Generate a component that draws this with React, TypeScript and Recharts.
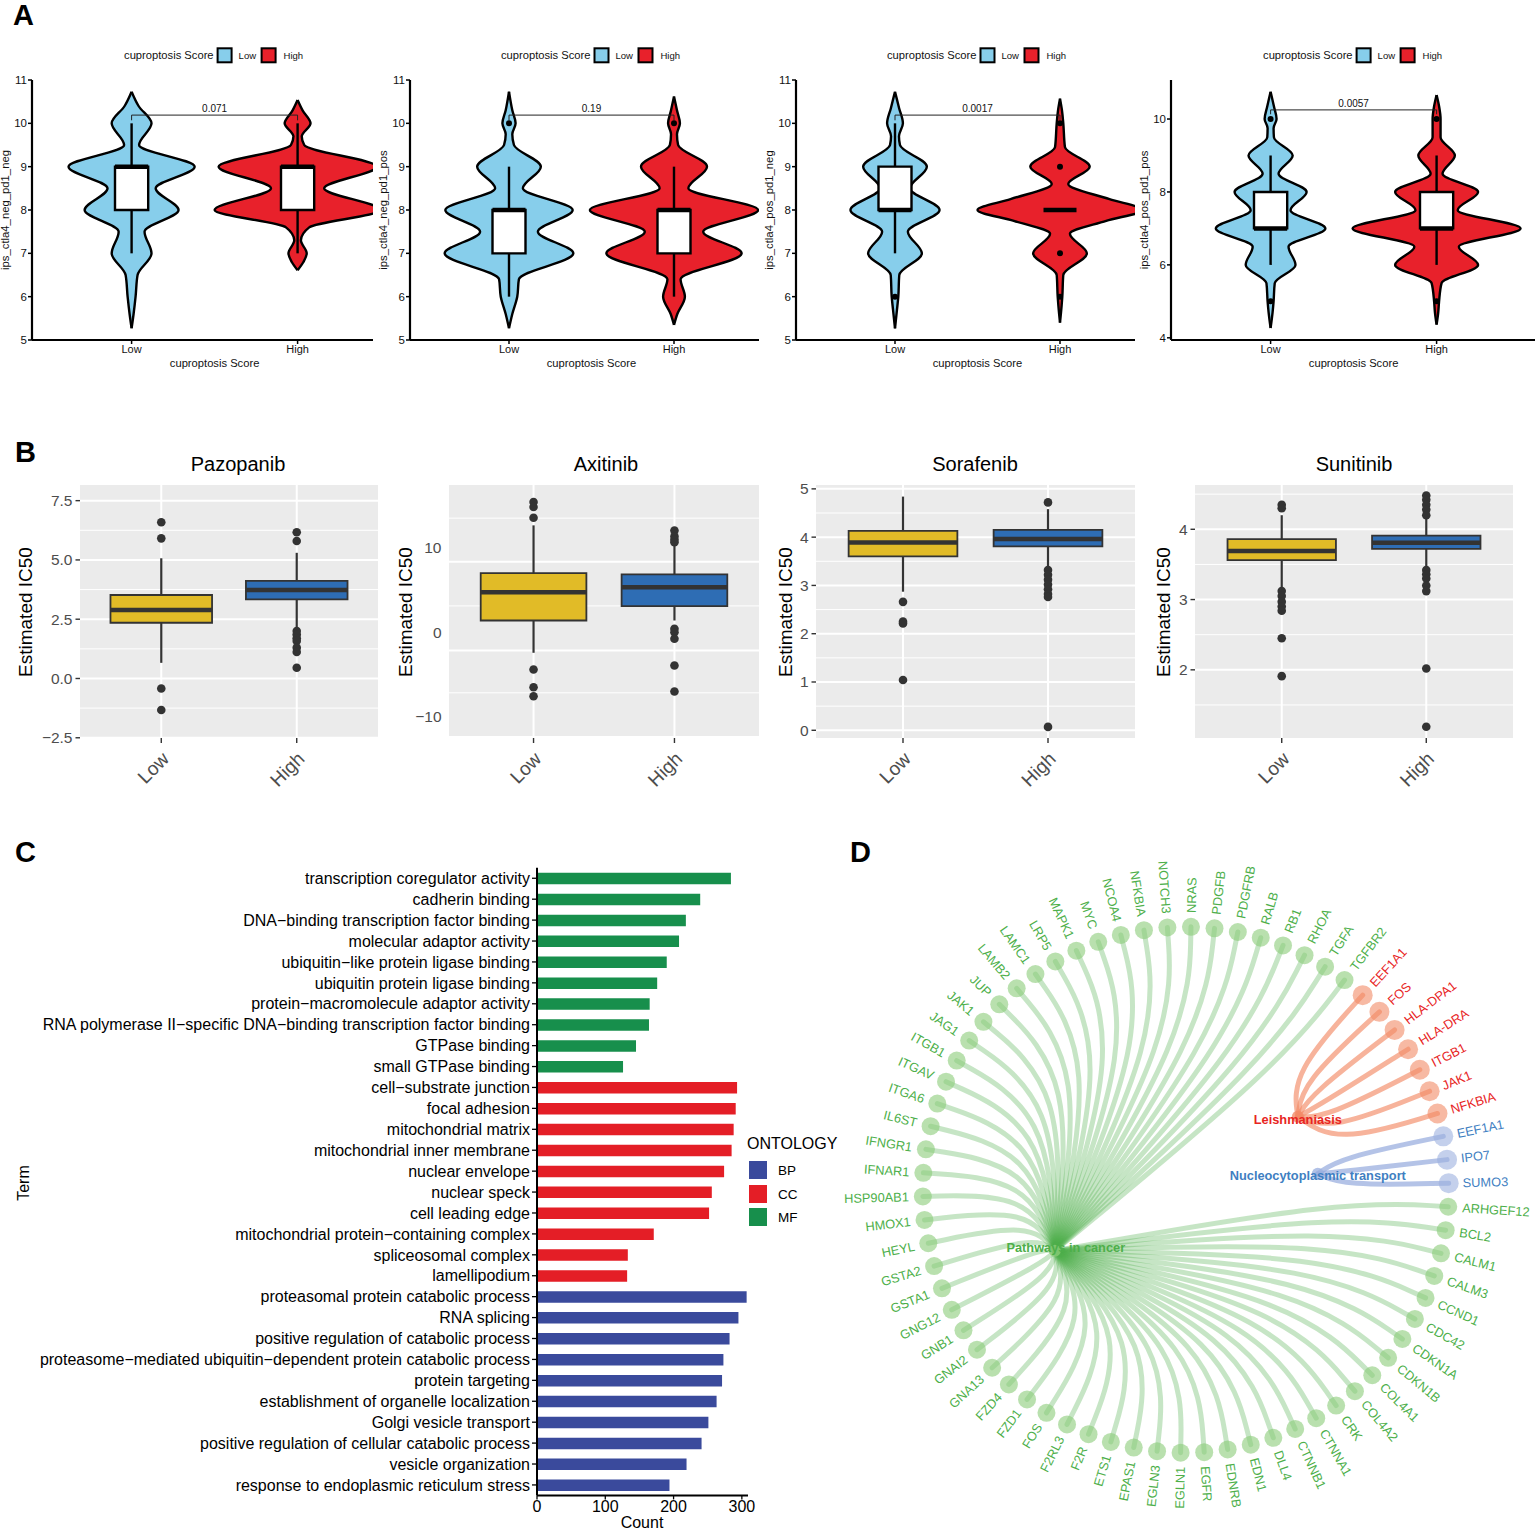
import React from "react";
import {
  ComposedChart,
  BarChart,
  Area,
  Bar,
  Cell,
  Line,
  Scatter,
  XAxis,
  YAxis,
  CartesianGrid,
  ReferenceArea,
  ReferenceLine,
  ReferenceDot,
} from "recharts";

const FONT = '"Liberation Sans", Arial, Helvetica, sans-serif';

const groups = ["Low", "High"];
const LOW_FILL = "#87CEEB";
const HIGH_FILL = "#E8212B";

// ---------------- A: immunophenoscore violins ----------------
const ipsNames = ["ips_ctla4_neg_pd1_neg", "ips_ctla4_neg_pd1_pos", "ips_ctla4_pos_pd1_neg", "ips_ctla4_pos_pd1_pos"];
const ipsP = ["0.071", "0.19", "0.0017", "0.0057"];
const ipsBracket = [10.19, 10.19, 10.19, 10.25];
const ipsDomains = [[5, 11], [5, 11], [5, 11], [3.94, 11.07]];
const ipsTicks = [[5, 6, 7, 8, 9, 10, 11], [5, 6, 7, 8, 9, 10, 11], [5, 6, 7, 8, 9, 10, 11], [4, 6, 8, 10]];

// density outline: [score, half width in group units]
const violinLow1 = [[5.27, 0], [5.6, 0.012], [6, 0.024], [6.5, 0.036], [7, 0.12], [7.5, 0.078], [8, 0.283], [8.5, 0.145], [9, 0.38], [9.5, 0.045], [10, 0.12], [10.4, 0.042], [10.73, 0]];
const violinHigh1 = [[6.61, 0], [6.8, 0.035], [7, 0.055], [7.3, 0.02], [7.6, 0.07], [8, 0.5], [8.5, 0.16], [9, 0.476], [9.5, 0.04], [9.7, 0.025], [10, 0.078], [10.3, 0.03], [10.54, 0]];
const violinLow2 = [[5.27, 0], [5.6, 0.02], [6, 0.05], [6.4, 0.06], [7, 0.39], [7.5, 0.175], [8, 0.386], [8.5, 0.084], [9, 0.193], [9.5, 0.03], [9.75, 0.02], [10, 0.04], [10.3, 0.02], [10.73, 0]];
const violinHigh2 = [[5.35, 0], [5.6, 0.02], [6, 0.066], [6.4, 0.04], [7, 0.41], [7.5, 0.177], [8, 0.51], [8.5, 0.087], [9, 0.2], [9.5, 0.025], [9.75, 0.018], [10, 0.036], [10.3, 0.018], [10.62, 0]];
const violinLow3 = [[5.27, 0], [5.7, 0.012], [6, 0.02], [6.5, 0.026], [7, 0.163], [7.5, 0.078], [8, 0.27], [8.5, 0.09], [9, 0.193], [9.5, 0.03], [9.7, 0.024], [10, 0.048], [10.35, 0.025], [10.73, 0]];
const violinHigh3 = [[5.4, 0], [5.8, 0.01], [6, 0.014], [6.5, 0.02], [7, 0.163], [7.45, 0.06], [7.75, 0.28], [8, 0.5], [8.25, 0.3], [8.6, 0.05], [9, 0.18], [9.45, 0.03], [10, 0.02], [10.3, 0.012], [10.57, 0]];
const violinLow4 = [[4.27, 0], [4.7, 0.012], [5, 0.018], [5.5, 0.025], [6, 0.15], [6.5, 0.108], [7, 0.33], [7.5, 0.12], [8, 0.217], [8.5, 0.048], [9, 0.133], [9.5, 0.02], [9.75, 0.018], [10, 0.036], [10.35, 0.02], [10.75, 0]];
const violinHigh4 = [[4.36, 0], [4.7, 0.01], [5, 0.015], [5.5, 0.03], [6, 0.25], [6.5, 0.134], [7, 0.506], [7.5, 0.127], [8, 0.25], [8.5, 0.036], [9, 0.11], [9.5, 0.024], [10, 0.024], [10.35, 0.015], [10.66, 0]];
const ipsViolinLow = [violinLow1, violinLow2, violinLow3, violinLow4];
const ipsViolinHigh = [violinHigh1, violinHigh2, violinHigh3, violinHigh4];

// boxes: [q1, median, q3, lower whisker, upper whisker]
const ipsBoxLow = [[8, 9, 9, 7, 10], [7, 8, 8, 6, 9], [8, 8, 9, 7, 10], [7, 7, 8, 6, 9]];
const ipsBoxHigh = [[8, 9, 9, 7, 10], [7, 8, 8, 6, 9], [8, 8, 8, 8, 8], [7, 7, 8, 6, 9]];
const ipsOutLow = [[], [10], [6], [10, 5]];
const ipsOutHigh = [[], [10], [10, 9, 7, 6], [10, 5]];

// ---------------- B: drug sensitivity boxplots ----------------
const drugNames = ["Pazopanib", "Axitinib", "Sorafenib", "Sunitinib"];
const icDomains = [[-2.51, 8.16], [-12.48, 17.36], [-0.16, 5.08], [1.03, 4.63]];
const icTicks = [[-2.5, 0, 2.5, 5, 7.5], [-10, 0, 10], [0, 1, 2, 3, 4, 5], [2, 3, 4]];
const icGridMajor = [[-2.5, 0, 2.5, 5, 7.5], [8.3, -2.15, -12.35], [0, 1, 2, 3, 4, 5], [2, 3, 4]];
const icGridMinor = [[-1.25, 1.25, 3.75, 6.25], [13.45, 3.1, -7.15], [0.5, 1.5, 2.5, 3.5, 4.5], [1.5, 2.5, 3.5, 4.5]];
const icBoxLow = [[2.35, 2.89, 3.52, 0.66, 5.07], [1.38, 4.72, 6.97, -2.43, 12.6], [3.6, 3.89, 4.13, 2.87, 4.84], [3.56, 3.69, 3.86, 3.16, 4.2]];
const icBoxHigh = [[3.34, 3.73, 4.12, 2.15, 5.3], [3.07, 5.31, 6.81, 1.38, 10.3], [3.81, 3.96, 4.15, 3.35, 4.58], [3.72, 3.81, 3.91, 3.45, 4.16]];
const icOutLow = [
  [6.59, 5.91, -0.42, -1.33],
  [15.35, 14.76, 13.5, -4.4, -6.5, -7.56],
  [2.66, 2.25, 2.21, 1.04],
  [4.35, 4.3, 3.12, 3.05, 2.97, 2.9, 2.84, 2.45, 1.91],
];
const icOutHigh = [
  [6.17, 5.8, 2.0, 1.85, 1.7, 1.58, 1.3, 1.12, 0.45],
  [12.0, 11.3, 10.9, 10.6, 0.4, 0.0, -0.78, -3.93, -7.0],
  [4.72, 3.32, 3.22, 3.12, 3.02, 2.92, 2.82, 2.76, 0.07],
  [4.48, 4.42, 4.35, 4.28, 4.2, 3.42, 3.36, 3.3, 3.2, 3.12, 2.02, 1.19],
];
const YELLOW = "#E1BB27";
const BLUE = "#2E6DB4";

// ---------------- C: GO enrichment ----------------
const goTermsMF = ["transcription coregulator activity", "cadherin binding", "DNA−binding transcription factor binding", "molecular adaptor activity", "ubiquitin−like protein ligase binding", "ubiquitin protein ligase binding", "protein−macromolecule adaptor activity", "RNA polymerase II−specific DNA−binding transcription factor binding", "GTPase binding", "small GTPase binding"];
const goCountsMF = [284, 239, 218, 208, 190, 176, 165, 164, 145, 126];
const goTermsCC = ["cell−substrate junction", "focal adhesion", "mitochondrial matrix", "mitochondrial inner membrane", "nuclear envelope", "nuclear speck", "cell leading edge", "mitochondrial protein−containing complex", "spliceosomal complex", "lamellipodium"];
const goCountsCC = [293, 291, 288, 285, 274, 256, 252, 171, 133, 132];
const goTermsBP = ["proteasomal protein catabolic process", "RNA splicing", "positive regulation of catabolic process", "proteasome−mediated ubiquitin−dependent protein catabolic process", "protein targeting", "establishment of organelle localization", "Golgi vesicle transport", "positive regulation of cellular catabolic process", "vesicle organization", "response to endoplasmic reticulum stress"];
const goCountsBP = [307, 295, 282, 273, 271, 263, 251, 241, 219, 194];
const ontologies = ["BP", "CC", "MF"];
const ontologyColors = { BP: "#3A4A9C", CC: "#E41E26", MF: "#178F4C" };

// ---------------- D: KEGG gene-concept network ----------------
const cancerGenes = ["ARHGEF12", "BCL2", "CALM1", "CALM3", "CCND1", "CDC42", "CDKN1A", "CDKN1B", "COL4A1", "COL4A2", "CRK", "CTNNA1", "CTNNB1", "DLL4", "EDN1", "EDNRB", "EGFR", "EGLN1", "EGLN3", "EPAS1", "ETS1", "F2R", "F2RL3", "FOS", "FZD1", "FZD4", "GNA13", "GNAI2", "GNB1", "GNG12", "GSTA1", "GSTA2", "HEYL", "HMOX1", "HSP90AB1", "IFNAR1", "IFNGR1", "IL6ST", "ITGA6", "ITGAV", "ITGB1", "JAG1", "JAK1", "JUP", "LAMB2", "LAMC1", "LRP5", "MAPK1", "MYC", "NCOA4", "NFKBIA", "NOTCH3", "NRAS", "PDGFB", "PDGFRB", "RALB", "RB1", "RHOA", "TGFA", "TGFBR2"];
const leishGenes = ["EEF1A1", "FOS", "HLA-DPA1", "HLA-DRA", "ITGB1", "JAK1", "NFKBIA"];
const nucleoGenes = ["EEF1A1", "IPO7", "SUMO3"];
const pathwayNames = ["Pathways in cancer", "Leishmaniasis", "Nucleocytoplasmic transport"];
const pathwayGenes = [cancerGenes, leishGenes, nucleoGenes];
// hub placement in ring-radius units (centre of gene ring = 0,0)
const hubLayout = [[-0.498, 0.232], [0.426, -0.278], [0.502, -0.061]];
const hubLabelShift = [[11, -3], [0, 3], [0, 2]];
const pathwayText = ["#4DAF4A", "#E8251F", "#3F7FC2"];
const pathwayEdge = ["#4DAF4A", "#F28A66", "#8CA3DA"];
const pathwayEdgeOpacity = [0.32, 0.65, 0.65];
const pathwayNode = ["#8ACB78", "#F28A66", "#9DB1E0"];
const RING_START = 3.7;

// ---------------- helpers ----------------
function boxMarks(key, center, half, s, fill, stroke, boxW, medW, whiskW) {
  const [q1, med, q3, lo, hi] = s;
  return [
    <ReferenceLine key={key + "wl"} segment={[{ x: center, y: lo }, { x: center, y: q1 }]} stroke={stroke} strokeWidth={whiskW} zIndex={650} />,
    <ReferenceLine key={key + "wh"} segment={[{ x: center, y: q3 }, { x: center, y: hi }]} stroke={stroke} strokeWidth={whiskW} zIndex={650} />,
    <ReferenceArea key={key + "b"} x1={center - half} x2={center + half} y1={q1} y2={q3} fill={fill} fillOpacity={1} stroke={stroke} strokeWidth={boxW} zIndex={660} />,
    <ReferenceLine key={key + "m"} segment={[{ x: center - half, y: med }, { x: center + half, y: med }]} stroke={stroke} strokeWidth={medW} zIndex={670} />,
  ];
}

const ipsLeft = [0, 373, 759, 1135];
const ipsAxisX = [32, 410, 796, 1171];
const ipsUnit = [166, 165, 165, 166];

function IpsViolin({ k }) {
  const left = ipsLeft[k];
  const axisW = ipsAxisX[k] - left;
  const width = axisW + ipsUnit[k] * 2.2;
  const lowRows = ipsViolinLow[k].map(([v, w]) => ({ v, w }));
  const highRows = ipsViolinHigh[k].map(([v, w]) => ({ v, w }));
  const outRows = [...ipsOutLow[k].map((v) => ({ x: 1, v })), ...ipsOutHigh[k].map((v) => ({ x: 2, v }))];
  const by = ipsBracket[k];
  return (
    <div style={{ position: "absolute", left, top: 40, width, height: 340, background: "#fff" }}>
      <ComposedChart layout="vertical" width={width} height={340} margin={{ top: 40, right: 0, bottom: 0, left: 0 }}>
        <XAxis
          type="number"
          dataKey="x"
          domain={[0.4, 2.6]}
          ticks={[1, 2]}
          interval={0}
          allowDataOverflow
          tickFormatter={(v) => groups[v - 1]}
          height={40}
          tickSize={4}
          tickMargin={1}
          axisLine={{ stroke: "#000", strokeWidth: 2.2 }}
          tickLine={{ stroke: "#000", strokeWidth: 1.5 }}
          tick={{ fontSize: 11, fill: "#111" }}
        />
        <YAxis
          type="number"
          dataKey="v"
          domain={ipsDomains[k]}
          ticks={ipsTicks[k]}
          interval={0}
          allowDataOverflow
          reversed
          width={axisW}
          tickSize={4}
          tickMargin={1}
          axisLine={{ stroke: "#000", strokeWidth: 2.2 }}
          tickLine={{ stroke: "#000", strokeWidth: 1.5 }}
          tick={{ fontSize: 11.5, fill: "#111" }}
        />
        <Area data={lowRows} dataKey={(d) => [1 - d.w, 1 + d.w]} type="monotone" fill={LOW_FILL} fillOpacity={1} stroke="#000" strokeWidth={2.4} isAnimationActive={false} />
        <Area data={highRows} dataKey={(d) => [2 - d.w, 2 + d.w]} type="monotone" fill={HIGH_FILL} fillOpacity={1} stroke="#000" strokeWidth={2.4} isAnimationActive={false} />
        {boxMarks("lo", 1, 0.1, ipsBoxLow[k], "#fff", "#000", 2.4, 4.5, 2.4)}
        {boxMarks("hi", 2, 0.1, ipsBoxHigh[k], "#fff", "#000", 2.4, 4.5, 2.4)}
        <ReferenceLine segment={[{ x: 1, y: by }, { x: 2, y: by }]} stroke="#222" strokeWidth={1} zIndex={680} />
        <ReferenceLine segment={[{ x: 1, y: by }, { x: 1, y: by - 0.12 }]} stroke="#222" strokeWidth={1} zIndex={680} />
        <ReferenceLine segment={[{ x: 2, y: by }, { x: 2, y: by - 0.12 }]} stroke="#222" strokeWidth={1} zIndex={680} />
        <ReferenceDot x={1.5} y={by} r={0.01} fill="none" stroke="none" zIndex={690} label={{ value: ipsP[k], position: "top", offset: 3, fontSize: 10, fill: "#111" }} />
        <Scatter data={outRows} isAnimationActive={false} zIndex={700} shape={(p) => <circle cx={p.cx} cy={p.cy} r={3} fill="#000" />} />
      </ComposedChart>
    </div>
  );
}

const icPanelLeft = [80, 449, 816, 1195];
const icPanelRight = [378, 759, 1135, 1513];

function icFormat(k) {
  return (v) => {
    const s = k === 0 ? v.toFixed(1) : String(v);
    return s.replace("-", "\u2212");
  };
}

const SlantTick = (props) => {
  const { x, y, payload } = props;
  const px = x + 9;
  const py = y + 15;
  return (
    <text x={px} y={py} transform={`rotate(-45 ${px} ${py})`} textAnchor="end" fontSize={19} fill="#4D4D4D">
      {groups[payload.value - 1]}
    </text>
  );
};

function DrugBox({ k }) {
  const axisW = 40;
  const left = icPanelLeft[k] - axisW;
  const width = axisW + icPanelRight[k] - icPanelLeft[k] + 2;
  const outRows = [...icOutLow[k].map((v) => ({ x: 1, v })), ...icOutHigh[k].map((v) => ({ x: 2, v }))];
  return (
    <div style={{ position: "absolute", left, top: 480, width, height: 318 }}>
      <ComposedChart width={width} height={318} margin={{ top: 5, right: 2, bottom: 0, left: 0 }}>
        <CartesianGrid fill="#EBEBEB" fillOpacity={1} stroke="#fff" strokeWidth={1} vertical={false} horizontalValues={icGridMinor[k]} />
        <CartesianGrid stroke="#fff" strokeWidth={2} horizontalValues={icGridMajor[k]} verticalValues={[1, 2]} />
        <XAxis
          type="number"
          dataKey="x"
          domain={[0.4, 2.6]}
          ticks={[1, 2]}
          interval={0}
          allowDataOverflow
          height={60}
          axisLine={false}
          tickSize={5}
          tickMargin={2}
          tickLine={{ stroke: "#333", strokeWidth: 1.4 }}
          tick={<SlantTick />}
        />
        <YAxis
          type="number"
          dataKey="v"
          domain={icDomains[k]}
          ticks={icTicks[k]}
          interval={0}
          allowDataOverflow
          width={axisW}
          axisLine={false}
          tickSize={4.5}
          tickMargin={3}
          tickLine={k === 1 ? false : { stroke: "#333", strokeWidth: 1.4 }}
          tickFormatter={icFormat(k)}
          tick={{ fontSize: 15.5, fill: "#4D4D4D" }}
        />
        {boxMarks("lo", 1, 0.375, icBoxLow[k], YELLOW, "#333", 1.8, 4.5, 2.2)}
        {boxMarks("hi", 2, 0.375, icBoxHigh[k], BLUE, "#333", 1.8, 4.5, 2.2)}
        <Scatter data={outRows} isAnimationActive={false} zIndex={700} shape={(p) => <circle cx={p.cx} cy={p.cy} r={4.3} fill="#333" />} />
      </ComposedChart>
    </div>
  );
}

function GoBars() {
  const rows = [
    ...goTermsMF.map((term, i) => ({ term, count: goCountsMF[i], ont: "MF" })),
    ...goTermsCC.map((term, i) => ({ term, count: goCountsCC[i], ont: "CC" })),
    ...goTermsBP.map((term, i) => ({ term, count: goCountsBP[i], ont: "BP" })),
  ];
  return (
    <div style={{ position: "absolute", left: 0, top: 860, width: 772, height: 670 }}>
      <BarChart layout="vertical" width={772} height={670} data={rows} margin={{ top: 7.8, right: 24, bottom: 0, left: 0 }} barSize={11.5}>
        <XAxis
          type="number"
          domain={[0, 309]}
          ticks={[0, 100, 200, 300]}
          interval={0}
          allowDataOverflow
          height={34.6}
          tickSize={4}
          tickMargin={1}
          axisLine={{ stroke: "#000", strokeWidth: 2 }}
          tickLine={{ stroke: "#000", strokeWidth: 1.3 }}
          tick={{ fontSize: 16, fill: "#000" }}
        />
        <YAxis
          type="category"
          dataKey="term"
          width={537}
          interval={0}
          tickSize={5}
          tickMargin={2}
          axisLine={{ stroke: "#000", strokeWidth: 2 }}
          tickLine={{ stroke: "#000", strokeWidth: 1.3 }}
          tick={{ fontSize: 16, fill: "#000" }}
        />
        <Bar dataKey="count" isAnimationActive={false}>
          {rows.map((r, i) => (
            <Cell key={i} fill={ontologyColors[r.ont]} />
          ))}
        </Bar>
      </BarChart>
    </div>
  );
}

const GeneNode = (props) => {
  const { cx, cy, payload } = props;
  const a = (payload.angle * Math.PI) / 180;
  const c = Math.cos(a);
  const s = Math.sin(a);
  const tx = cx + c * 14;
  const ty = cy + s * 14;
  const right = c >= 0;
  const rot = right ? payload.angle : payload.angle - 180;
  return (
    <g>
      <circle cx={cx} cy={cy} r={payload.p === 0 ? 9 : 10} fill={pathwayNode[payload.p]} fillOpacity={0.6} />
      <text x={tx} y={ty} transform={`rotate(${rot} ${tx} ${ty})`} textAnchor={right ? "start" : "end"} dominantBaseline="central" fontSize={12.8} fill={pathwayText[payload.p]}>
        {payload.name}
      </text>
    </g>
  );
};

const HubNode = (props) => {
  const { cx, cy, payload } = props;
  const [dx, dy] = hubLabelShift[payload.p];
  return (
    <g>
      <circle cx={cx} cy={cy} r={6} fill={pathwayNode[payload.p]} fillOpacity={0.8} />
      <text x={cx + dx} y={cy + dy} textAnchor="middle" dominantBaseline="central" fontSize={12.8} fontWeight="bold" fill={pathwayText[payload.p]}>
        {payload.name}
      </text>
    </g>
  );
};

function KeggNetwork() {
  const ring = [];
  pathwayGenes.forEach((genes, p) => genes.forEach((name) => ring.push({ name, p })));
  const step = 360 / ring.length;
  const nodes = ring.map((g, i) => {
    const angle = RING_START + i * step;
    const a = (angle * Math.PI) / 180;
    return { ...g, angle, x: Math.cos(a), y: Math.sin(a) };
  });
  const hubs = pathwayNames.map((name, p) => ({ name, p, x: hubLayout[p][0], y: hubLayout[p][1] }));
  const R = 263;
  const span = 1.33;
  const size = 2 * span * R;
  return (
    <div style={{ position: "absolute", left: 1186 - size / 2, top: 1190 - size / 2, width: size, height: size }}>
      <ComposedChart width={size} height={size} margin={{ top: 0, right: 0, bottom: 0, left: 0 }}>
        <XAxis type="number" dataKey="x" domain={[-span, span]} allowDataOverflow hide />
        <YAxis type="number" dataKey="y" domain={[-span, span]} allowDataOverflow reversed hide />
        {nodes.map((n, i) => {
          const hub = hubs[n.p];
          const edge = [
            { x: hub.x, y: hub.y },
            { x: n.x * 0.6, y: n.y * 0.6 },
            { x: n.x, y: n.y },
          ];
          return (
            <Line
              key={"e" + i}
              data={edge}
              dataKey="y"
              type="basis"
              stroke={pathwayEdge[n.p]}
              strokeOpacity={pathwayEdgeOpacity[n.p]}
              strokeWidth={5}
              strokeLinecap="round"
              dot={false}
              activeDot={false}
              isAnimationActive={false}
            />
          );
        })}
        <Scatter data={nodes} shape={<GeneNode />} isAnimationActive={false} />
        <Scatter data={hubs} shape={<HubNode />} isAnimationActive={false} />
      </ComposedChart>
    </div>
  );
}

function Overlay() {
  const letters = [["A", 13, 24.5], ["B", 15, 462], ["C", 15, 862], ["D", 850, 862]];
  const icTitleX = [238, 606, 975, 1354];
  const icLabelX = [25.5, 405, 785, 1163.5];
  return (
    <svg width={1535} height={1529} style={{ position: "absolute", left: 0, top: 0, pointerEvents: "none" }} fontFamily={FONT}>
      {letters.map(([t, x, y]) => (
        <text key={t} x={x} y={y} fontSize={29} fontWeight="bold" fill="#000">
          {t}
        </text>
      ))}
      {ipsNames.map((name, k) => {
        const cx = ipsAxisX[k] + 1.1 * ipsUnit[k];
        const yx = ipsAxisX[k] - 27;
        return (
          <g key={name}>
            <text x={cx - 1} y={59.2} textAnchor="end" fontSize={11.2} fill="#111">cuproptosis Score</text>
            <rect x={cx + 3} y={48.3} width={14} height={14} fill={LOW_FILL} stroke="#000" strokeWidth={2} />
            <text x={cx + 24} y={58.6} fontSize={9.5} fill="#111">Low</text>
            <rect x={cx + 47} y={48.3} width={14} height={14} fill={HIGH_FILL} stroke="#000" strokeWidth={2} />
            <text x={cx + 69} y={58.6} fontSize={9.5} fill="#111">High</text>
            <text x={cx} y={367} textAnchor="middle" fontSize={11.2} fill="#111">cuproptosis Score</text>
            <text transform={`translate(${yx} 210) rotate(-90)`} textAnchor="middle" dominantBaseline="central" fontSize={11.3} fill="#111">
              {name}
            </text>
          </g>
        );
      })}
      {drugNames.map((d, k) => (
        <g key={d}>
          <text x={icTitleX[k]} y={471} textAnchor="middle" fontSize={20} fill="#000">{d}</text>
          <text transform={`translate(${icLabelX[k]} 612) rotate(-90)`} textAnchor="middle" dominantBaseline="central" fontSize={19} fill="#000">
            Estimated IC50
          </text>
        </g>
      ))}
      <text transform="translate(23 1183) rotate(-90)" textAnchor="middle" dominantBaseline="central" fontSize={16} fill="#000">Term</text>
      <text x={642} y={1527.5} textAnchor="middle" fontSize={16} fill="#000">Count</text>
      <text x={747} y={1149} fontSize={16} fill="#000">ONTOLOGY</text>
      {ontologies.map((o, i) => {
        const y = [1161, 1185, 1208][i];
        return (
          <g key={o}>
            <rect x={749} y={y} width={18} height={18} fill={ontologyColors[o]} />
            <text x={778} y={y + 13.8} fontSize={13.5} fill="#000">{o}</text>
          </g>
        );
      })}
    </svg>
  );
}

export default function App() {
  return (
    <div style={{ position: "absolute", left: 0, top: 0, width: 1535, height: 1529, background: "#fff", overflow: "hidden", fontFamily: FONT }}>
      {[0, 1, 2, 3].map((k) => (
        <IpsViolin key={"a" + k} k={k} />
      ))}
      {[0, 1, 2, 3].map((k) => (
        <DrugBox key={"b" + k} k={k} />
      ))}
      <GoBars />
      <KeggNetwork />
      <Overlay />
    </div>
  );
}
